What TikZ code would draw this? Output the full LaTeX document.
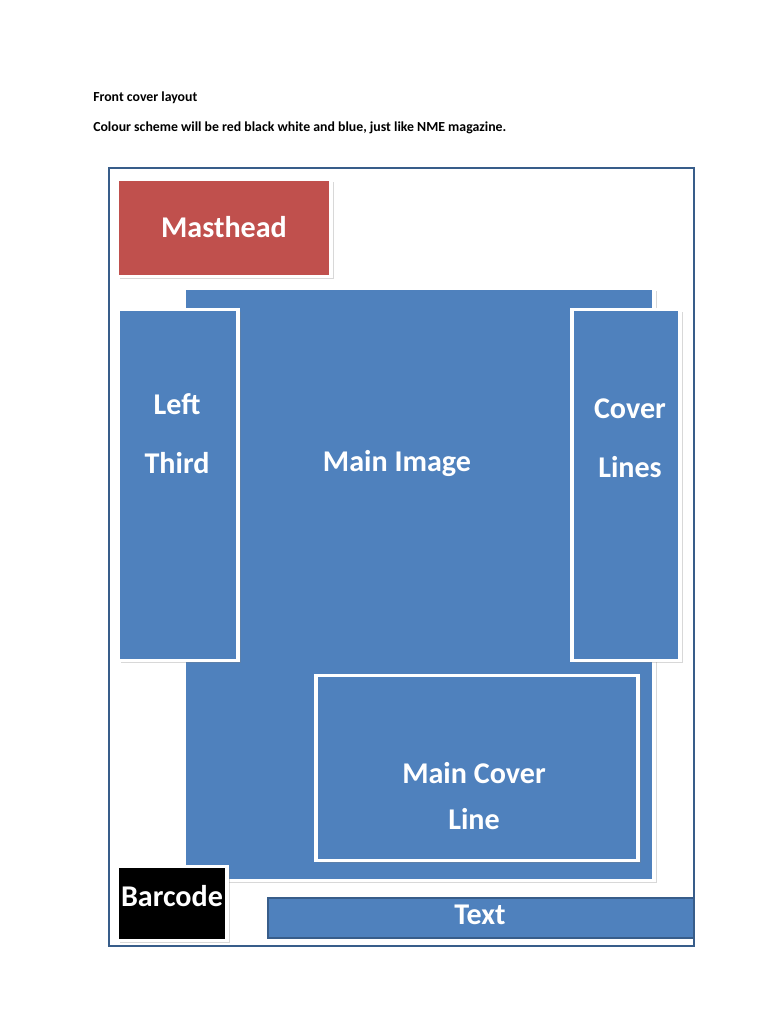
\documentclass[tikz,border=0pt]{standalone}
\usepackage{fontspec}
\setmainfont{Carlito}
\usetikzlibrary{fit, shadows}

\definecolor{coverblue}{HTML}{4F81BD}
\definecolor{coverred}{HTML}{C0504D}
\definecolor{framedark}{HTML}{385D8A}

\begin{document}
\begin{tikzpicture}[
			x=0.797pt, y=-0.797pt,
			box/.style={draw=white, line width=2.4pt, inner sep=0pt, drop shadow={opacity=0.3, shadow xshift=2.2pt, shadow yshift=-2.6pt}},
			bluebox/.style={box, fill=coverblue},
			label/.style={text=white, font=\fontsize{24}{29}\selectfont\bfseries, align=center, inner sep=0pt},
			heading/.style={font=\fontsize{11}{13}\selectfont\bfseries, anchor=base west, inner sep=0pt}
			]
			\useasboundingbox (0,0) rectangle (768,1024);
			
			% Heading
			\node (title) [heading] at (93,101) {Front cover layout};
			\node (scheme) [heading] at (93,131) {Colour scheme will be red black white and blue, just like NME magazine.};
			
			% Page frame
			\node (page) [draw=framedark, fill=white, line width=2pt, inner sep=0pt, fit={(109,168) (694,946)}] {};
			
			% Boxes
			\node (masthead) [box, fill=coverred, fit={(117,179) (331,276)}] {};
			\node (mainimage) [bluebox, fit={(184,288) (654,880)}] {};
			\node (leftthird) [bluebox, fit={(118,309) (238,660)}] {};
			\node (coverlines) [bluebox, fit={(572,309) (680,660)}] {};
			\node (maincover) [bluebox, fit={(316,675) (638,860)}] {};
			\node (barcode) [box, fill=black, fit={(117,866) (227,940)}] {};
			\node (textbar) [draw=framedark, fill=coverblue, line width=1pt, inner sep=0pt, fit={(268,898) (694,938)}] {};
			
			% Labels
			\node [label] at (masthead.center) {Masthead};
			\node [label] at (177,434) {Left\\[18pt]Third};
			\node [label] at (397,463) {Main Image};
			\node [label] at (630,438) {Cover\\[18pt]Lines};
			\node [label] at (474,796) {Main Cover\\[8pt]Line};
			\node [label] at (172,896) {Barcode};
			\node [label] at (480,915) {Text};
			
		\end{tikzpicture}
\end{document}
